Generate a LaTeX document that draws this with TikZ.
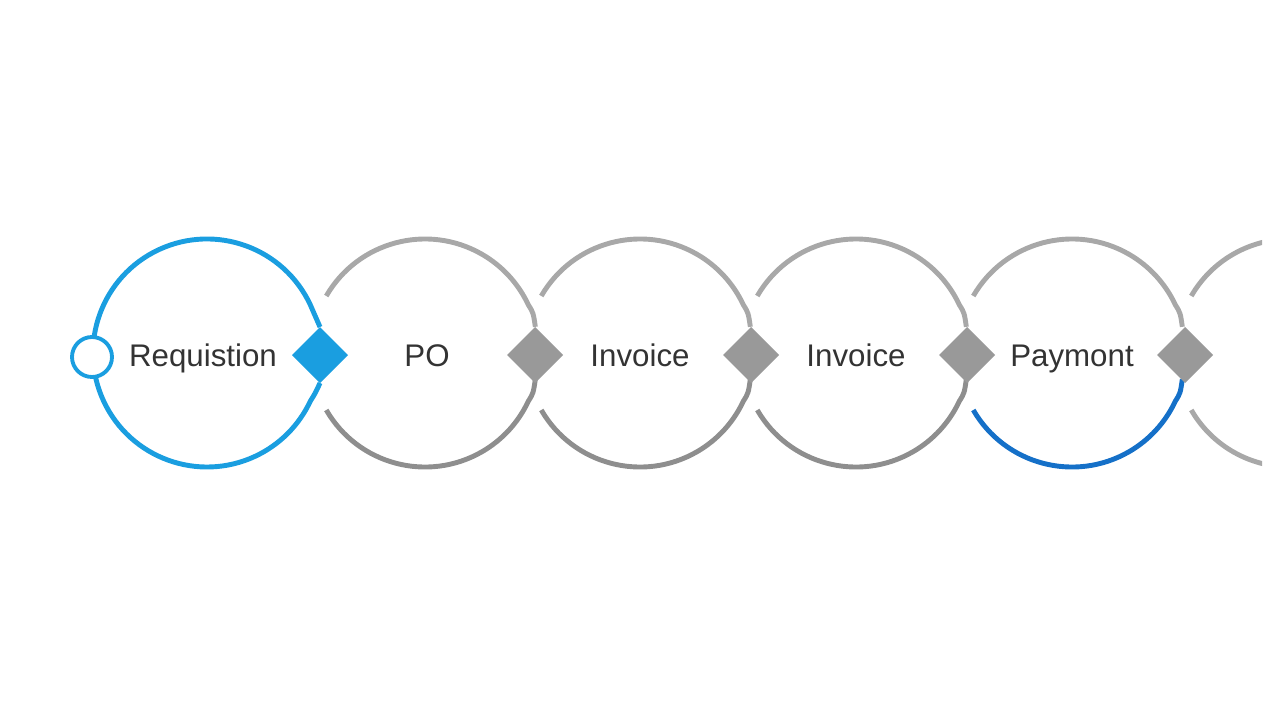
\documentclass[tikz,border=0pt]{standalone}
\usepackage{fontspec}
\setmainfont{Liberation Sans}
\definecolor{blu}{HTML}{1A9EE0}
\definecolor{dblu}{HTML}{1570C8}
\definecolor{gtop}{HTML}{A8A8A8}
\definecolor{gbot}{HTML}{8E8E8E}
\definecolor{gdia}{HTML}{999999}
\definecolor{txt}{HTML}{333333}
\begin{document}
\begin{tikzpicture}[x=0.02cm,y=-0.02cm,
  ring/.style={line width=2.8pt},
  lbl/.style={font=\fontsize{17.8}{20}\selectfont,text=txt,anchor=base}]
\useasboundingbox (0,0) rectangle (1280,720);
\def\r{114}
% first circle (blue)
\draw[ring,blu] (320,327) .. controls (315,315) .. (310.3,304.8) arc[start angle=335,end angle=25,radius=\r] .. controls ++(5,-8) .. (320,383);
% gray circles 2..5
\foreach \cx/\bc in {425/gbot,640/gbot,856/gbot,1072/dblu}{
  \draw[ring,gtop] (\cx,353) ++(210:\r) arc[start angle=210,end angle=335,radius=\r] .. controls ++(5,8) .. ++(7,22);
  \draw[ring,\bc] (\cx,353) ++(150:\r) arc[start angle=150,end angle=25,radius=\r] .. controls ++(5,-8) .. ++(7,-22);
}
% partial last circle
\begin{scope}
\clip (1150,200) rectangle (1262,520);
\draw[ring,gtop] (1290,353) ++(210:\r) arc[start angle=210,end angle=265,radius=\r];
\draw[ring,gtop] (1290,353) ++(150:\r) arc[start angle=150,end angle=95,radius=\r];
\end{scope}
% diamonds
\fill[blu] (320,327) -- (348,355) -- (320,383) -- (292,355) -- cycle;
\foreach \dx in {535,751,967,1185}{
  \fill[gdia] (\dx,327) -- (\dx+28,355) -- (\dx,383) -- (\dx-28,355) -- cycle;
}
% start marker
\draw[blu,line width=2.2pt,fill=white] (92,357) circle[radius=20];
% labels
\node[lbl] (l1) at (203,366) {Requistion};
\node[lbl] (l2) at (427,366) {PO};
\node[lbl] (l3) at (640,366) {Invoice};
\node[lbl] (l4) at (856,366) {Invoice};
\node[lbl] (l5) at (1072,366) {Paymont};
\end{tikzpicture}
\end{document}
